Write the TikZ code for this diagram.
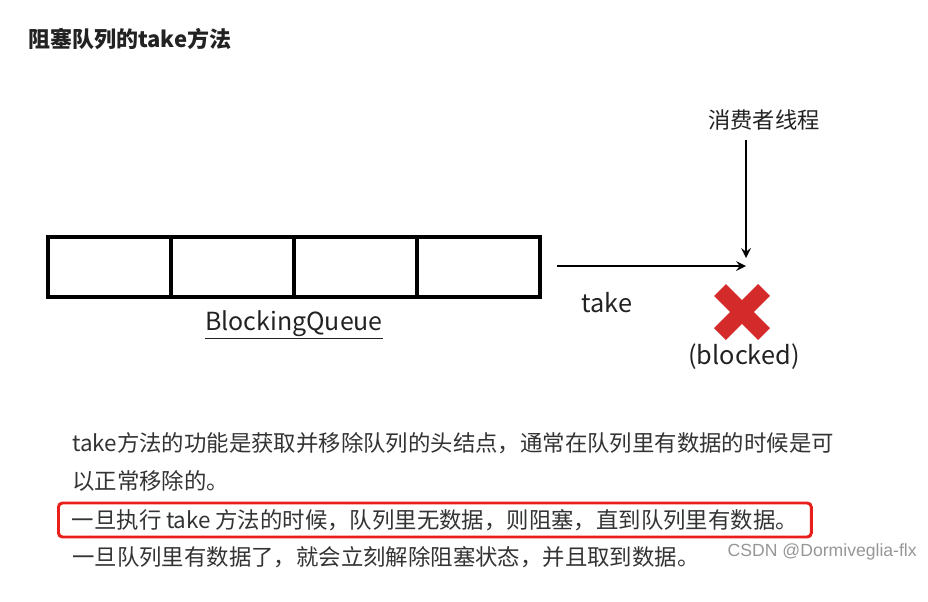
\documentclass[tikz,border=0pt]{standalone}
\usepackage{fontspec}
\setmainfont{Noto Sans CJK SC}
\newfontfamily\wmfont{Liberation Sans}
\usetikzlibrary{shapes.misc}
\definecolor{inkgray}{RGB}{34,34,34}
\definecolor{bodygray}{RGB}{51,51,51}
\definecolor{crossred}{RGB}{212,42,42}
\definecolor{boxred}{RGB}{232,32,28}
\definecolor{markgray}{RGB}{150,150,150}

\begin{document}
\begin{tikzpicture}[
  x=0.75pt, y=-0.75pt,
  >=stealth,
  cell/.style={draw, line width=3pt, minimum width=92.25pt, minimum height=45pt, inner sep=0pt},
  note/.style={inner sep=0pt, text=inkgray, font=\fontsize{16.7}{20}\selectfont},
  para/.style={anchor=west, inner sep=0pt, text=bodygray, font=\fontsize{16.8}{20}\selectfont},
  hilite/.style={draw=boxred, line width=2.2pt, rounded corners=3pt, inner xsep=10pt, minimum height=25.5pt},
  flow/.style={line width=2.2pt},
]
  \useasboundingbox (0,0) rectangle (928,601);

  % Title
  \node[anchor=west, inner sep=0pt, text=inkgray, font=\fontsize{16.5}{19}\selectfont\bfseries] (title) at (28,39) {阻塞队列的take方法};

  % Row 1: the queue
  \node[cell] (c1) at (109.5,267) {};
  \node[cell] (c2) at (232.5,267) {};
  \node[cell] (c3) at (355.5,267) {};
  \node[cell] (c4) at (478.5,267) {};
  \node[note, font=\fontsize{18.7}{22}\selectfont] (bq) at (294,325) {\underline{BlockingQueue}};

  % Row 1 (right): consumer and the blocked take
  \node[note] (thread) at (764,120) {消费者线程};
  \coordinate (qout) at (557,266);
  \coordinate (stop) at (746,266);
  \coordinate (tin) at (746,140);
  \coordinate (halt) at (746,258);
  \node[note, font=\fontsize{19}{22}\selectfont] (take) at (607,303) {take};
  \node[cross out, draw=crossred, line width=12.5pt, minimum size=33pt, inner sep=0pt, outer sep=0pt] (cross) at (742,312) {};
  \node[note, font=\fontsize{19}{22}\selectfont] (blocked) at (744,357) {(blocked)};

  % Edges
  \draw[->, flow] (qout) -- (stop);
  \draw[->, flow] (tin) -- (halt);

  % Text below
  \node[para] (p1) at (72,443) {take方法的功能是获取并移除队列的头结点，通常在队列里有数据的时候是可};
  \node[para] (p2) at (72,481) {以正常移除的。};
  \node[para, hilite] (p3) at (57,520) {一旦执行\hspace{3.5pt}take\hspace{3.5pt}方法的时候，队列里无数据，则阻塞，直到队列里有数据。};
  \node[para] (p4) at (72,557) {一旦队列里有数据了，就会立刻解除阻塞状态，并且取到数据。};

  % Watermark
  \node[anchor=east, inner sep=0pt, text=markgray, font=\wmfont\fontsize{13.2}{15}\selectfont] (mark) at (917,552) {CSDN @Dormiveglia-flx};
\end{tikzpicture}
\end{document}
